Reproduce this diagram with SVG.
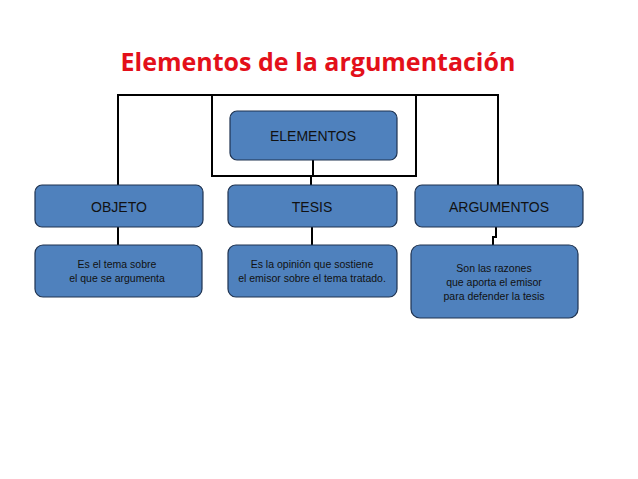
<svg xmlns="http://www.w3.org/2000/svg" width="638" height="479" viewBox="0 0 638 479">
<style>
.b{fill:#4f81bd;stroke:#1f3350;stroke-width:1.2}
.t{font-family:"Liberation Sans",Arial,sans-serif;fill:#111;text-anchor:middle}
.l{fill:none;stroke:#000;stroke-width:2}
</style>
<rect width="638" height="479" fill="#fff"/>
<text x="318" y="71" font-family="Open Sans,Liberation Sans,sans-serif" font-weight="bold" font-size="25" fill="#e3101a" text-anchor="middle">Elementos de la argumentación</text>
<g id="connectors">
<path class="l" d="M118 185V95H498V185"/>
<rect class="l" x="212" y="95" width="204" height="81"/>
<path class="l" d="M313 160V176H311V185"/>
<path class="l" d="M118 227V245"/>
<path class="l" d="M312 227V245"/>
<path class="l" d="M496 227V237H493V245"/>
</g>
<g id="elementos"><rect class="b" x="230" y="111" width="167" height="49" rx="7"/><text class="t" x="313" y="141" font-size="14">ELEMENTOS</text></g>
<g id="objeto"><rect class="b" x="35" y="185" width="168" height="42" rx="7"/><text class="t" x="119" y="212" font-size="14">OBJETO</text></g>
<g id="tesis"><rect class="b" x="228" y="185" width="169" height="42" rx="7"/><text class="t" x="312" y="212" font-size="14">TESIS</text></g>
<g id="argumentos"><rect class="b" x="415" y="185" width="168" height="42" rx="7"/><text class="t" x="499" y="212" font-size="14">ARGUMENTOS</text></g>
<g id="objeto-desc"><rect class="b" x="35" y="245" width="167" height="52" rx="8"/><text class="t" x="117" y="268" font-size="10.5">Es el tema sobre</text><text class="t" x="117" y="282" font-size="10.5">el que se argumenta</text></g>
<g id="tesis-desc"><rect class="b" x="228" y="245" width="169" height="52" rx="8"/><text class="t" x="312" y="268" font-size="10.5">Es la opinión que sostiene</text><text class="t" x="312" y="282" font-size="10.5">el emisor sobre el tema tratado.</text></g>
<g id="argumentos-desc"><rect class="b" x="411" y="245" width="167" height="73" rx="9"/><text class="t" x="494" y="272" font-size="10.5">Son las razones</text><text class="t" x="494" y="286" font-size="10.5">que aporta el emisor</text><text class="t" x="494" y="300" font-size="10.5">para defender la tesis</text></g>
</svg>
